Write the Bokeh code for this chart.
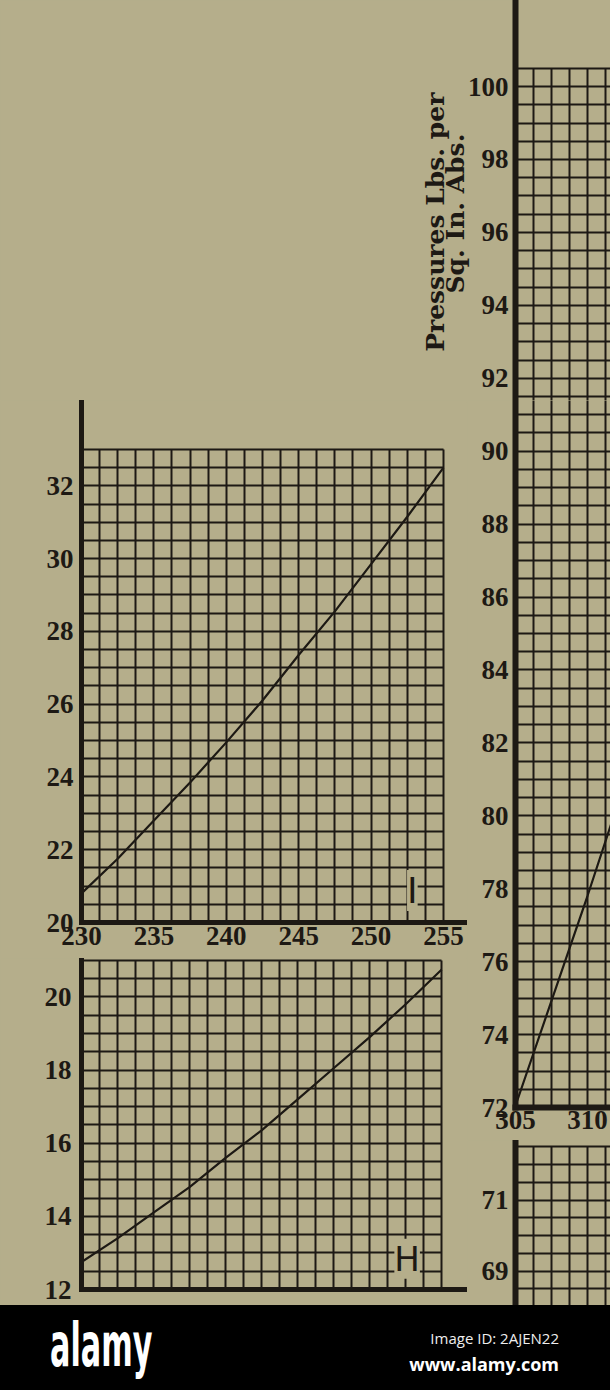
from bokeh.plotting import figure
from bokeh.layouts import column, row
from bokeh.models import FixedTicker, Range1d, Label, Grid, Div
from bokeh.embed import file_html
from bokeh.resources import INLINE

try:
    from bokeh.models import GlobalInlineStyleSheet
except Exception:
    GlobalInlineStyleSheet = None

PAPER = "#b5ae8b"
INK = "#1d1914"

# ---------------- data ----------------
# Chart I : temperature (deg F) vs pressure (lbs per sq. in. abs.)
i_temp = [230, 232.5, 235, 237.5, 240, 242.5, 245, 247.5, 250, 252.5, 255]
i_pres = [20.8, 21.75, 22.8, 23.85, 24.95, 26.1, 27.35, 28.55, 29.85, 31.15, 32.5]
i_xticks = [230, 235, 240, 245, 250, 255]
i_yticks = [20, 22, 24, 26, 28, 30, 32]

# Chart H
h_temp = [205, 207.5, 210, 212.5, 215, 217.5, 220, 222.5, 225, 227.5, 230]
h_pres = [12.75, 13.4, 14.1, 14.8, 15.6, 16.35, 17.2, 18.05, 18.9, 19.8, 20.75]
h_yticks = [12, 14, 16, 18, 20]

# Right chart (only its left part is visible)
r_temp = [305, 306, 308, 310, 312, 315, 320, 325, 327.5]
r_pres = [72.05, 73.2, 75.5, 77.8, 80.2, 83.8, 90.1, 96.9, 100.3]
r_xticks = [305, 310, 315, 320, 325, 330]
r_yticks = [72, 74, 76, 78, 80, 82, 84, 86, 88, 90, 92, 94, 96, 98, 100]

# Lower right chart (only its top-left corner is visible)
rb_yticks = [69, 71]

title_lines = ["Pressures Lbs. per", "Sq. In. Abs."]

# grid structure: 4 squares per 5 degrees, 2 squares per 1 lb
X_STEP = 1.25
Y_STEP = 0.5

HAS_CROSS = "cross_bounds" in Grid.properties()

TICK_FONT = "Liberation Serif"
TICK_SIZE = "27px"

R_SPLIT = 91.39   # pressure where the right chart is split between two canvases


def grid_ticks(a, b, step):
    n = int(round((b - a) / step))
    return [a + k * step for k in range(n + 1)]


def style_axis(ax, width, standoff):
    ax.axis_line_color = INK
    ax.axis_line_width = width
    ax.axis_line_cap = "square"
    ax.major_tick_line_color = None
    ax.minor_tick_line_color = None
    ax.major_tick_in = 0
    ax.major_tick_out = 0
    ax.minor_tick_in = 0
    ax.minor_tick_out = 0
    ax.major_label_text_font = TICK_FONT
    ax.major_label_text_font_style = "bold"
    ax.major_label_text_font_size = TICK_SIZE
    ax.major_label_text_color = INK
    ax.major_label_standoff = standoff


def make_chart(width, height, xr, yr, borders, gx, gy, xticks, yticks,
               axis_w, x_std, y_std, show_x=True):
    bl, br, bt, bb = borders
    p = figure(width=width, height=height,
               x_range=Range1d(*xr), y_range=Range1d(*yr),
               output_backend="svg", toolbar_location=None,
               x_axis_location="below" if show_x else None,
               min_border=0,
               min_border_left=bl, min_border_right=br,
               min_border_top=bt, min_border_bottom=bb,
               background_fill_color=PAPER, border_fill_color=PAPER,
               outline_line_color=None)
    for ax in p.yaxis:
        ax.ticker = FixedTicker(ticks=yticks)
        style_axis(ax, axis_w, y_std)
    if show_x:
        for ax in p.xaxis:
            ax.ticker = FixedTicker(ticks=xticks)
            style_axis(ax, axis_w, x_std)
    xs = grid_ticks(gx[0], gx[1], X_STEP)
    ys = grid_ticks(gy[0], gy[1], Y_STEP)
    for g in list(p.xgrid) + list(p.ygrid):
        g.visible = False
    if HAS_CROSS:
        p.add_layout(Grid(dimension=0, ticker=FixedTicker(ticks=xs), cross_bounds=(gy[0], gy[1]),
                          grid_line_color=INK, grid_line_width=2))
        p.add_layout(Grid(dimension=1, ticker=FixedTicker(ticks=ys), cross_bounds=(gx[0], gx[1]),
                          grid_line_color=INK, grid_line_width=2))
    else:
        p.segment(x0=xs, y0=[gy[0]] * len(xs), x1=xs, y1=[gy[1]] * len(xs),
                  line_color=INK, line_width=2, level="underlay")
        p.segment(x0=[gx[0]] * len(ys), y0=ys, x1=[gx[1]] * len(ys), y1=ys,
                  line_color=INK, line_width=2, level="underlay")
    return p


# ---------------- top band: upper part of the right chart + axis title ----------------
pTop = make_chart(610, 400, (305, 311.6), (R_SPLIT, 102.36), (515, 0, 0, 0),
                  (305, 330), (72, 100.5), [], r_yticks, 6, 0, 7, show_x=False)
pTop.line(r_temp, r_pres, line_color=INK, line_width=2.2)
ya = pTop.yaxis[0]
ya.axis_label = title_lines[0] + "     \n" + title_lines[1] + "   "
ya.axis_label_text_font = "DejaVu Serif"
ya.axis_label_text_font_style = "bold"
ya.axis_label_text_font_size = "25px"
ya.axis_label_text_color = INK
ya.axis_label_text_line_height = 0.69
ya.axis_label_standoff = -5

# ---------------- chart I ----------------
pI = make_chart(467, 558, (230, 256.59), (20, 34.29), (81, 1, 2, 36),
                (230, 255), (20, 33), i_xticks, i_yticks, 5, 4, 8)
pI.line(i_temp, i_pres, line_color=INK, line_width=2.2)
pI.add_layout(Label(x=252.85, y=20.88, text="I", text_align="center", text_baseline="middle",
                    text_font="DejaVu Sans", text_font_size="36px", text_color=INK,
                    background_fill_color=PAPER))

# ---------------- chart H ----------------
pH = make_chart(467, 347, (205, 231.72), (12, 21.05), (79, 0, 0, 16),
                (205, 230), (12, 21), [], h_yticks, 5, 0, 10)
pH.line(h_temp, h_pres, line_color=INK, line_width=2.2)
pH.add_layout(Label(x=227.6, y=12.84, text="H", text_align="center", text_baseline="middle",
                    text_font="DejaVu Sans", text_font_size="34px", text_color=INK,
                    background_fill_color=PAPER))

# ---------------- lower part of the right chart ----------------
pR = make_chart(143, 740, (305, 311.6), (72, R_SPLIT), (48, 0, 0, 33),
                (305, 330), (72, 100.5), r_xticks, r_yticks, 6, 3, 7)
pR.line(r_temp, r_pres, line_color=INK, line_width=2.2)

# ---------------- lower right chart ----------------
pRB = make_chart(143, 165, (280, 286.6), (68.03, 72.62), (48, 0, 2, 0),
                 (280, 305), (60, 72.5), [], rb_yticks, 6, 0, 7, show_x=False)

# ---------------- banner ----------------
banner_html = (
    '<div style="position:relative;width:610px;height:85px;background:#000;overflow:hidden;margin:0;padding:0;">'
    '<span style="position:absolute;left:50px;top:10px;font:bold 60px/60px \'DejaVu Sans Condensed\';'
    'color:#fff;transform:scaleX(0.56);transform-origin:left top;white-space:nowrap;">alamy</span>'
    '<span style="position:absolute;right:51px;top:26px;font:15px/15px \'Open Sans\';'
    'color:#eee;white-space:nowrap;">Image ID: 2AJEN22</span>'
    '<span style="position:absolute;right:51px;top:50px;font:bold 18px/18px \'Open Sans\';'
    'color:#fff;white-space:nowrap;">www.alamy.com</span>'
    '</div>'
)
pb = Div(text=banner_html, width=610, height=85, margin=0,
         styles={"background-color": "#000000", "padding": "0px"})

layout = column(pTop, row(column(pI, pH), column(pR, pRB)), pb)
if GlobalInlineStyleSheet is not None:
    layout.stylesheets = [GlobalInlineStyleSheet(css="html, body { background-color: %s; }" % PAPER)]

open("out.html", "w").write(file_html(layout, INLINE))
